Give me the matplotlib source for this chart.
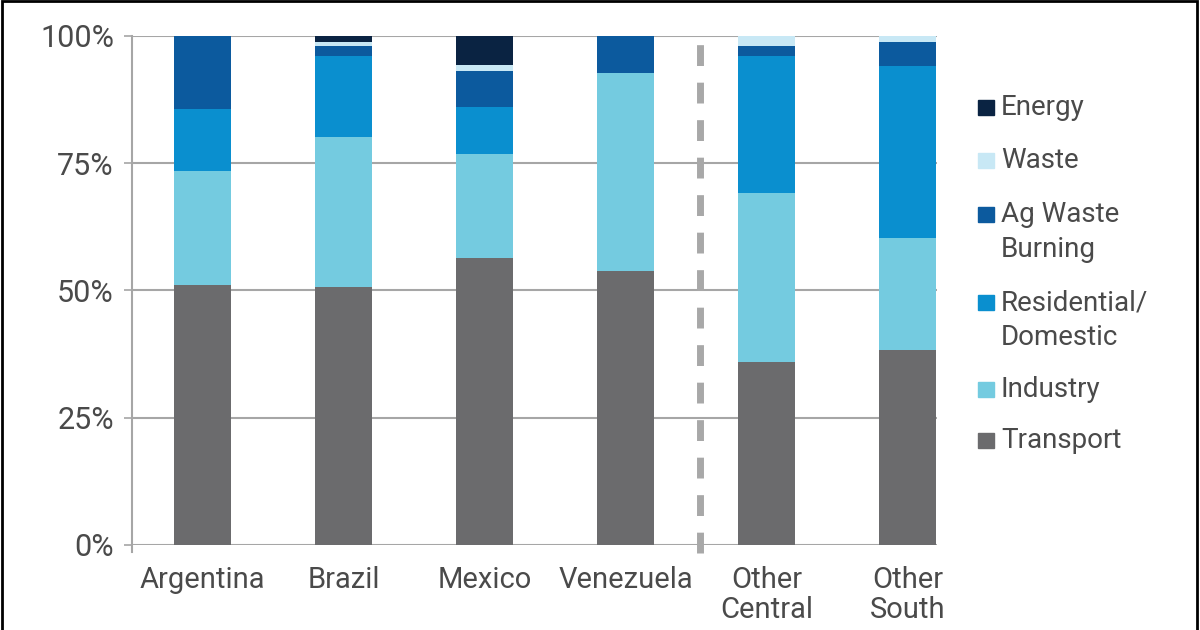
import numpy as np
import matplotlib.pyplot as plt
from matplotlib.patches import Rectangle

plt.rcParams['font.family'] = ['Liberation Sans Narrow', 'Roboto', 'DejaVu Sans']
plt.rcParams['font.stretch'] = 'condensed'

# ============ data (% share of emissions) ============
regions = ['Argentina', 'Brazil', 'Mexico', 'Venezuela', 'Other\nCentral', 'Other\nSouth']
transport   = [51.1, 50.6, 56.3, 53.9, 36.0, 38.2]
industry    = [22.4, 29.5, 20.5, 38.8, 33.1, 22.1]
residential = [12.2, 16.0,  9.3,  0.0, 27.0, 33.7]
ag_waste    = [14.3,  2.0,  7.0,  7.3,  2.0,  4.9]
waste       = [ 0.0,  0.8,  1.2,  0.0,  1.9,  1.1]
energy      = [ 0.0,  1.1,  5.7,  0.0,  0.0,  0.0]

series_names = ['Transport', 'Industry', 'Residential/\nDomestic', 'Ag Waste\nBurning', 'Waste', 'Energy']
series_colors = ['#6b6b6d', '#74cbe0', '#0a8fcf', '#0c5a9e', '#c8e8f5', '#0a2342']
series = [transport, industry, residential, ag_waste, waste, energy]

text_color = '#4a4a4a'
grid_color = '#a6a6a6'

fig = plt.figure(figsize=(12, 6.3), dpi=100)
ax = fig.add_axes([0.11, 0.135, 0.671, 0.808])

x = np.arange(len(regions))
bottom = np.zeros(len(regions))
for vals, col in zip(series, series_colors):
    ax.bar(x, vals, width=0.41, bottom=bottom, color=col, zorder=2)
    bottom += np.array(vals)

ax.set_xlim(-0.5, 5.21)
ax.set_ylim(0, 100)
ax.set_yticks([0, 25, 50, 75, 100])
ax.set_yticklabels(['0%', '25%', '50%', '75%', '100%'])
ax.set_xticks(x)
ax.set_xticklabels(regions, linespacing=1.1)

ax.yaxis.grid(True, color=grid_color, lw=1.5, zorder=0)
ax.set_axisbelow(True)
for s in ['top', 'right', 'bottom']:
    ax.spines[s].set_visible(False)
ax.spines['left'].set_color(grid_color)
ax.spines['left'].set_linewidth(1.5)
ax.spines['left'].set_bounds(-1.3, 100)

ax.tick_params(axis='y', length=6, width=1.2, color=grid_color, pad=7,
               labelsize=22, labelcolor=text_color)
ax.tick_params(axis='x', length=0, pad=15, labelsize=21, labelcolor=text_color)

# dashed separator between countries and regional groups
ax.plot([3.53, 3.53], [-1.5, 100], color='#a8a8a8', lw=5, dashes=(3.0, 2.4),
        clip_on=False, zorder=1)

# legend drawn by hand (square sits on the first line's baseline)
leg_baselines = [115, 168, 222, 310, 397, 448]
leg_order = [5, 4, 3, 2, 1, 0]
for yb, idx in zip(leg_baselines, leg_order):
    yf = 1 - yb / 630
    fig.add_artist(Rectangle((978 / 1200, yf), 16 / 1200, 15 / 630,
                             color=series_colors[idx], transform=fig.transFigure))
    for k, line in enumerate(series_names[idx].split('\n')):
        fig.text(1001 / 1200, 1 - (yb + 35 * k) / 630, line, fontsize=20,
                 color=text_color, va='baseline', ha='left')

# outer frame
fig.add_artist(Rectangle((0.0015, -0.1), 0.996, 1.098, fill=False, edgecolor='black',
                         lw=2, transform=fig.transFigure))

fig.savefig('out.png', dpi=100)
